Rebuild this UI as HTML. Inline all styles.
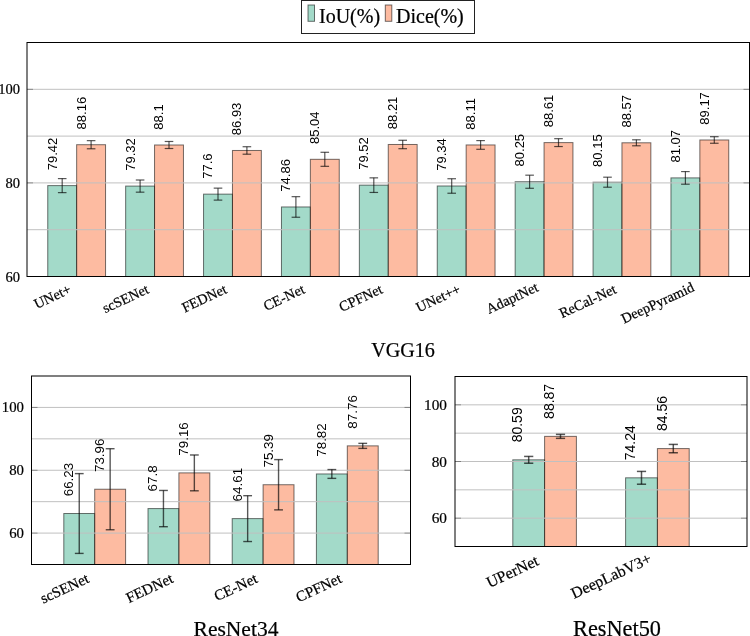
<!DOCTYPE html>
<html><head><meta charset="utf-8"><style>
html,body{margin:0;padding:0;background:#fff;width:750px;height:636px;overflow:hidden;}
svg{display:block;will-change:transform;}
text{fill:#000;stroke:#000;stroke-width:0.22px;}
text.s{stroke-width:0px;stroke:none;}
</style></head><body>
<svg width="750" height="636" viewBox="0 0 750 636"><rect x="47.75" y="185.61" width="28.90" height="90.89" fill="#66c2a5" fill-opacity="0.6" stroke="rgba(0,0,0,0.55)" stroke-width="1.0"/>
<rect x="76.65" y="144.71" width="28.90" height="131.79" fill="#fc8d62" fill-opacity="0.6" stroke="rgba(0,0,0,0.55)" stroke-width="1.0"/>
<rect x="125.65" y="186.08" width="28.90" height="90.42" fill="#66c2a5" fill-opacity="0.6" stroke="rgba(0,0,0,0.55)" stroke-width="1.0"/>
<rect x="154.55" y="144.99" width="28.90" height="131.51" fill="#fc8d62" fill-opacity="0.6" stroke="rgba(0,0,0,0.55)" stroke-width="1.0"/>
<rect x="203.55" y="194.13" width="28.90" height="82.37" fill="#66c2a5" fill-opacity="0.6" stroke="rgba(0,0,0,0.55)" stroke-width="1.0"/>
<rect x="232.45" y="150.47" width="28.90" height="126.03" fill="#fc8d62" fill-opacity="0.6" stroke="rgba(0,0,0,0.55)" stroke-width="1.0"/>
<rect x="281.45" y="206.96" width="28.90" height="69.54" fill="#66c2a5" fill-opacity="0.6" stroke="rgba(0,0,0,0.55)" stroke-width="1.0"/>
<rect x="310.35" y="159.31" width="28.90" height="117.19" fill="#fc8d62" fill-opacity="0.6" stroke="rgba(0,0,0,0.55)" stroke-width="1.0"/>
<rect x="359.35" y="185.15" width="28.90" height="91.35" fill="#66c2a5" fill-opacity="0.6" stroke="rgba(0,0,0,0.55)" stroke-width="1.0"/>
<rect x="388.25" y="144.48" width="28.90" height="132.02" fill="#fc8d62" fill-opacity="0.6" stroke="rgba(0,0,0,0.55)" stroke-width="1.0"/>
<rect x="437.25" y="185.99" width="28.90" height="90.51" fill="#66c2a5" fill-opacity="0.6" stroke="rgba(0,0,0,0.55)" stroke-width="1.0"/>
<rect x="466.15" y="144.95" width="28.90" height="131.55" fill="#fc8d62" fill-opacity="0.6" stroke="rgba(0,0,0,0.55)" stroke-width="1.0"/>
<rect x="515.15" y="181.73" width="28.90" height="94.77" fill="#66c2a5" fill-opacity="0.6" stroke="rgba(0,0,0,0.55)" stroke-width="1.0"/>
<rect x="544.05" y="142.61" width="28.90" height="133.89" fill="#fc8d62" fill-opacity="0.6" stroke="rgba(0,0,0,0.55)" stroke-width="1.0"/>
<rect x="593.05" y="182.20" width="28.90" height="94.30" fill="#66c2a5" fill-opacity="0.6" stroke="rgba(0,0,0,0.55)" stroke-width="1.0"/>
<rect x="621.95" y="142.79" width="28.90" height="133.71" fill="#fc8d62" fill-opacity="0.6" stroke="rgba(0,0,0,0.55)" stroke-width="1.0"/>
<rect x="670.95" y="177.89" width="28.90" height="98.61" fill="#66c2a5" fill-opacity="0.6" stroke="rgba(0,0,0,0.55)" stroke-width="1.0"/>
<rect x="699.85" y="139.98" width="28.90" height="136.52" fill="#fc8d62" fill-opacity="0.6" stroke="rgba(0,0,0,0.55)" stroke-width="1.0"/>
<line x1="27.00" y1="229.70" x2="749.50" y2="229.70" stroke="#c0c0c0" stroke-width="1.0"/>
<line x1="27.00" y1="182.90" x2="749.50" y2="182.90" stroke="#c0c0c0" stroke-width="1.0"/>
<line x1="27.00" y1="136.10" x2="749.50" y2="136.10" stroke="#c0c0c0" stroke-width="1.0"/>
<line x1="27.00" y1="89.30" x2="749.50" y2="89.30" stroke="#c0c0c0" stroke-width="1.0"/>
<line x1="62.20" y1="178.59" x2="62.20" y2="192.63" stroke="rgba(0,0,0,0.66)" stroke-width="1.2"/>
<line x1="57.90" y1="178.59" x2="66.50" y2="178.59" stroke="rgba(0,0,0,0.66)" stroke-width="1.2"/>
<line x1="57.90" y1="192.63" x2="66.50" y2="192.63" stroke="rgba(0,0,0,0.66)" stroke-width="1.2"/>
<line x1="91.10" y1="140.64" x2="91.10" y2="148.78" stroke="rgba(0,0,0,0.66)" stroke-width="1.2"/>
<line x1="86.80" y1="140.64" x2="95.40" y2="140.64" stroke="rgba(0,0,0,0.66)" stroke-width="1.2"/>
<line x1="86.80" y1="148.78" x2="95.40" y2="148.78" stroke="rgba(0,0,0,0.66)" stroke-width="1.2"/>
<line x1="140.10" y1="180.00" x2="140.10" y2="192.17" stroke="rgba(0,0,0,0.66)" stroke-width="1.2"/>
<line x1="135.80" y1="180.00" x2="144.40" y2="180.00" stroke="rgba(0,0,0,0.66)" stroke-width="1.2"/>
<line x1="135.80" y1="192.17" x2="144.40" y2="192.17" stroke="rgba(0,0,0,0.66)" stroke-width="1.2"/>
<line x1="169.00" y1="141.48" x2="169.00" y2="148.50" stroke="rgba(0,0,0,0.66)" stroke-width="1.2"/>
<line x1="164.70" y1="141.48" x2="173.30" y2="141.48" stroke="rgba(0,0,0,0.66)" stroke-width="1.2"/>
<line x1="164.70" y1="148.50" x2="173.30" y2="148.50" stroke="rgba(0,0,0,0.66)" stroke-width="1.2"/>
<line x1="218.00" y1="188.14" x2="218.00" y2="200.12" stroke="rgba(0,0,0,0.66)" stroke-width="1.2"/>
<line x1="213.70" y1="188.14" x2="222.30" y2="188.14" stroke="rgba(0,0,0,0.66)" stroke-width="1.2"/>
<line x1="213.70" y1="200.12" x2="222.30" y2="200.12" stroke="rgba(0,0,0,0.66)" stroke-width="1.2"/>
<line x1="246.90" y1="146.72" x2="246.90" y2="154.21" stroke="rgba(0,0,0,0.66)" stroke-width="1.2"/>
<line x1="242.60" y1="146.72" x2="251.20" y2="146.72" stroke="rgba(0,0,0,0.66)" stroke-width="1.2"/>
<line x1="242.60" y1="154.21" x2="251.20" y2="154.21" stroke="rgba(0,0,0,0.66)" stroke-width="1.2"/>
<line x1="295.90" y1="196.66" x2="295.90" y2="217.25" stroke="rgba(0,0,0,0.66)" stroke-width="1.2"/>
<line x1="291.60" y1="196.66" x2="300.20" y2="196.66" stroke="rgba(0,0,0,0.66)" stroke-width="1.2"/>
<line x1="291.60" y1="217.25" x2="300.20" y2="217.25" stroke="rgba(0,0,0,0.66)" stroke-width="1.2"/>
<line x1="324.80" y1="152.29" x2="324.80" y2="166.33" stroke="rgba(0,0,0,0.66)" stroke-width="1.2"/>
<line x1="320.50" y1="152.29" x2="329.10" y2="152.29" stroke="rgba(0,0,0,0.66)" stroke-width="1.2"/>
<line x1="320.50" y1="166.33" x2="329.10" y2="166.33" stroke="rgba(0,0,0,0.66)" stroke-width="1.2"/>
<line x1="373.80" y1="177.85" x2="373.80" y2="192.45" stroke="rgba(0,0,0,0.66)" stroke-width="1.2"/>
<line x1="369.50" y1="177.85" x2="378.10" y2="177.85" stroke="rgba(0,0,0,0.66)" stroke-width="1.2"/>
<line x1="369.50" y1="192.45" x2="378.10" y2="192.45" stroke="rgba(0,0,0,0.66)" stroke-width="1.2"/>
<line x1="402.70" y1="140.27" x2="402.70" y2="148.69" stroke="rgba(0,0,0,0.66)" stroke-width="1.2"/>
<line x1="398.40" y1="140.27" x2="407.00" y2="140.27" stroke="rgba(0,0,0,0.66)" stroke-width="1.2"/>
<line x1="398.40" y1="148.69" x2="407.00" y2="148.69" stroke="rgba(0,0,0,0.66)" stroke-width="1.2"/>
<line x1="451.70" y1="178.73" x2="451.70" y2="193.24" stroke="rgba(0,0,0,0.66)" stroke-width="1.2"/>
<line x1="447.40" y1="178.73" x2="456.00" y2="178.73" stroke="rgba(0,0,0,0.66)" stroke-width="1.2"/>
<line x1="447.40" y1="193.24" x2="456.00" y2="193.24" stroke="rgba(0,0,0,0.66)" stroke-width="1.2"/>
<line x1="480.60" y1="140.59" x2="480.60" y2="149.30" stroke="rgba(0,0,0,0.66)" stroke-width="1.2"/>
<line x1="476.30" y1="140.59" x2="484.90" y2="140.59" stroke="rgba(0,0,0,0.66)" stroke-width="1.2"/>
<line x1="476.30" y1="149.30" x2="484.90" y2="149.30" stroke="rgba(0,0,0,0.66)" stroke-width="1.2"/>
<line x1="529.60" y1="175.18" x2="529.60" y2="188.28" stroke="rgba(0,0,0,0.66)" stroke-width="1.2"/>
<line x1="525.30" y1="175.18" x2="533.90" y2="175.18" stroke="rgba(0,0,0,0.66)" stroke-width="1.2"/>
<line x1="525.30" y1="188.28" x2="533.90" y2="188.28" stroke="rgba(0,0,0,0.66)" stroke-width="1.2"/>
<line x1="558.50" y1="138.67" x2="558.50" y2="146.54" stroke="rgba(0,0,0,0.66)" stroke-width="1.2"/>
<line x1="554.20" y1="138.67" x2="562.80" y2="138.67" stroke="rgba(0,0,0,0.66)" stroke-width="1.2"/>
<line x1="554.20" y1="146.54" x2="562.80" y2="146.54" stroke="rgba(0,0,0,0.66)" stroke-width="1.2"/>
<line x1="607.50" y1="177.19" x2="607.50" y2="187.21" stroke="rgba(0,0,0,0.66)" stroke-width="1.2"/>
<line x1="603.20" y1="177.19" x2="611.80" y2="177.19" stroke="rgba(0,0,0,0.66)" stroke-width="1.2"/>
<line x1="603.20" y1="187.21" x2="611.80" y2="187.21" stroke="rgba(0,0,0,0.66)" stroke-width="1.2"/>
<line x1="636.40" y1="139.80" x2="636.40" y2="145.79" stroke="rgba(0,0,0,0.66)" stroke-width="1.2"/>
<line x1="632.10" y1="139.80" x2="640.70" y2="139.80" stroke="rgba(0,0,0,0.66)" stroke-width="1.2"/>
<line x1="632.10" y1="145.79" x2="640.70" y2="145.79" stroke="rgba(0,0,0,0.66)" stroke-width="1.2"/>
<line x1="685.40" y1="171.57" x2="685.40" y2="184.21" stroke="rgba(0,0,0,0.66)" stroke-width="1.2"/>
<line x1="681.10" y1="171.57" x2="689.70" y2="171.57" stroke="rgba(0,0,0,0.66)" stroke-width="1.2"/>
<line x1="681.10" y1="184.21" x2="689.70" y2="184.21" stroke="rgba(0,0,0,0.66)" stroke-width="1.2"/>
<line x1="714.30" y1="136.71" x2="714.30" y2="143.26" stroke="rgba(0,0,0,0.66)" stroke-width="1.2"/>
<line x1="710.00" y1="136.71" x2="718.60" y2="136.71" stroke="rgba(0,0,0,0.66)" stroke-width="1.2"/>
<line x1="710.00" y1="143.26" x2="718.60" y2="143.26" stroke="rgba(0,0,0,0.66)" stroke-width="1.2"/>
<text x="56.70" y="170.31" font-size="13.0" font-family="'Liberation Sans', sans-serif" text-anchor="start" transform="rotate(-90 56.70 170.31)" class="s">79.42</text>
<text x="85.60" y="129.41" font-size="13.0" font-family="'Liberation Sans', sans-serif" text-anchor="start" transform="rotate(-90 85.60 129.41)" class="s">88.16</text>
<text x="134.60" y="170.78" font-size="13.0" font-family="'Liberation Sans', sans-serif" text-anchor="start" transform="rotate(-90 134.60 170.78)" class="s">79.32</text>
<text x="163.50" y="129.69" font-size="13.0" font-family="'Liberation Sans', sans-serif" text-anchor="start" transform="rotate(-90 163.50 129.69)" class="s">88.1</text>
<text x="212.50" y="178.83" font-size="13.0" font-family="'Liberation Sans', sans-serif" text-anchor="start" transform="rotate(-90 212.50 178.83)" class="s">77.6</text>
<text x="241.40" y="135.17" font-size="13.0" font-family="'Liberation Sans', sans-serif" text-anchor="start" transform="rotate(-90 241.40 135.17)" class="s">86.93</text>
<text x="290.40" y="191.66" font-size="13.0" font-family="'Liberation Sans', sans-serif" text-anchor="start" transform="rotate(-90 290.40 191.66)" class="s">74.86</text>
<text x="319.30" y="144.01" font-size="13.0" font-family="'Liberation Sans', sans-serif" text-anchor="start" transform="rotate(-90 319.30 144.01)" class="s">85.04</text>
<text x="368.30" y="169.85" font-size="13.0" font-family="'Liberation Sans', sans-serif" text-anchor="start" transform="rotate(-90 368.30 169.85)" class="s">79.52</text>
<text x="397.20" y="129.18" font-size="13.0" font-family="'Liberation Sans', sans-serif" text-anchor="start" transform="rotate(-90 397.20 129.18)" class="s">88.21</text>
<text x="446.20" y="170.69" font-size="13.0" font-family="'Liberation Sans', sans-serif" text-anchor="start" transform="rotate(-90 446.20 170.69)" class="s">79.34</text>
<text x="475.10" y="129.65" font-size="13.0" font-family="'Liberation Sans', sans-serif" text-anchor="start" transform="rotate(-90 475.10 129.65)" class="s">88.11</text>
<text x="524.10" y="166.43" font-size="13.0" font-family="'Liberation Sans', sans-serif" text-anchor="start" transform="rotate(-90 524.10 166.43)" class="s">80.25</text>
<text x="553.00" y="127.31" font-size="13.0" font-family="'Liberation Sans', sans-serif" text-anchor="start" transform="rotate(-90 553.00 127.31)" class="s">88.61</text>
<text x="602.00" y="166.90" font-size="13.0" font-family="'Liberation Sans', sans-serif" text-anchor="start" transform="rotate(-90 602.00 166.90)" class="s">80.15</text>
<text x="630.90" y="127.49" font-size="13.0" font-family="'Liberation Sans', sans-serif" text-anchor="start" transform="rotate(-90 630.90 127.49)" class="s">88.57</text>
<text x="679.90" y="162.59" font-size="13.0" font-family="'Liberation Sans', sans-serif" text-anchor="start" transform="rotate(-90 679.90 162.59)" class="s">81.07</text>
<text x="708.80" y="124.68" font-size="13.0" font-family="'Liberation Sans', sans-serif" text-anchor="start" transform="rotate(-90 708.80 124.68)" class="s">89.17</text>
<rect x="27.0" y="42.5" width="722.5" height="234.0" fill="none" stroke="#000" stroke-width="1"/>
<line x1="27.00" y1="276.50" x2="33.00" y2="276.50" stroke="rgba(0,0,0,0.35)" stroke-width="1.0"/>
<line x1="743.50" y1="276.50" x2="749.50" y2="276.50" stroke="rgba(0,0,0,0.35)" stroke-width="1.0"/>
<line x1="27.00" y1="182.90" x2="33.00" y2="182.90" stroke="rgba(0,0,0,0.35)" stroke-width="1.0"/>
<line x1="743.50" y1="182.90" x2="749.50" y2="182.90" stroke="rgba(0,0,0,0.35)" stroke-width="1.0"/>
<line x1="27.00" y1="89.30" x2="33.00" y2="89.30" stroke="rgba(0,0,0,0.35)" stroke-width="1.0"/>
<line x1="743.50" y1="89.30" x2="749.50" y2="89.30" stroke="rgba(0,0,0,0.35)" stroke-width="1.0"/>
<text x="20.00" y="281.50" font-size="14.5" font-family="'Liberation Serif', serif" text-anchor="end">60</text>
<text x="20.00" y="187.90" font-size="14.5" font-family="'Liberation Serif', serif" text-anchor="end">80</text>
<text x="20.00" y="94.30" font-size="14.5" font-family="'Liberation Serif', serif" text-anchor="end">100</text>
<text x="72.05" y="292.50" font-size="14.3" font-family="'Liberation Serif', serif" text-anchor="end" transform="rotate(-25 72.05 292.50)">UNet+</text>
<text x="149.95" y="292.50" font-size="14.3" font-family="'Liberation Serif', serif" text-anchor="end" transform="rotate(-25 149.95 292.50)">scSENet</text>
<text x="227.85" y="292.50" font-size="14.3" font-family="'Liberation Serif', serif" text-anchor="end" transform="rotate(-25 227.85 292.50)">FEDNet</text>
<text x="305.75" y="292.50" font-size="14.3" font-family="'Liberation Serif', serif" text-anchor="end" transform="rotate(-25 305.75 292.50)">CE-Net</text>
<text x="383.65" y="292.50" font-size="14.3" font-family="'Liberation Serif', serif" text-anchor="end" transform="rotate(-25 383.65 292.50)">CPFNet</text>
<text x="461.55" y="292.50" font-size="14.3" font-family="'Liberation Serif', serif" text-anchor="end" transform="rotate(-25 461.55 292.50)">UNet++</text>
<text x="539.45" y="290.50" font-size="14.3" font-family="'Liberation Serif', serif" text-anchor="end" transform="rotate(-25 539.45 290.50)">AdaptNet</text>
<text x="617.35" y="292.50" font-size="14.3" font-family="'Liberation Serif', serif" text-anchor="end" transform="rotate(-25 617.35 292.50)">ReCal-Net</text>
<text x="695.25" y="290.50" font-size="14.3" font-family="'Liberation Serif', serif" text-anchor="end" transform="rotate(-25 695.25 290.50)">DeepPyramid</text>
<rect x="63.80" y="513.51" width="30.90" height="50.99" fill="#66c2a5" fill-opacity="0.6" stroke="rgba(0,0,0,0.55)" stroke-width="1.0"/>
<rect x="94.70" y="489.23" width="30.90" height="75.27" fill="#fc8d62" fill-opacity="0.6" stroke="rgba(0,0,0,0.55)" stroke-width="1.0"/>
<rect x="148.00" y="508.58" width="30.90" height="55.92" fill="#66c2a5" fill-opacity="0.6" stroke="rgba(0,0,0,0.55)" stroke-width="1.0"/>
<rect x="178.90" y="472.89" width="30.90" height="91.61" fill="#fc8d62" fill-opacity="0.6" stroke="rgba(0,0,0,0.55)" stroke-width="1.0"/>
<rect x="232.20" y="518.60" width="30.90" height="45.90" fill="#66c2a5" fill-opacity="0.6" stroke="rgba(0,0,0,0.55)" stroke-width="1.0"/>
<rect x="263.10" y="484.73" width="30.90" height="79.77" fill="#fc8d62" fill-opacity="0.6" stroke="rgba(0,0,0,0.55)" stroke-width="1.0"/>
<rect x="316.40" y="473.96" width="30.90" height="90.54" fill="#66c2a5" fill-opacity="0.6" stroke="rgba(0,0,0,0.55)" stroke-width="1.0"/>
<rect x="347.30" y="445.87" width="30.90" height="118.63" fill="#fc8d62" fill-opacity="0.6" stroke="rgba(0,0,0,0.55)" stroke-width="1.0"/>
<line x1="31.50" y1="533.08" x2="410.50" y2="533.08" stroke="#c0c0c0" stroke-width="1.0"/>
<line x1="31.50" y1="501.67" x2="410.50" y2="501.67" stroke="#c0c0c0" stroke-width="1.0"/>
<line x1="31.50" y1="470.25" x2="410.50" y2="470.25" stroke="#c0c0c0" stroke-width="1.0"/>
<line x1="31.50" y1="438.83" x2="410.50" y2="438.83" stroke="#c0c0c0" stroke-width="1.0"/>
<line x1="31.50" y1="407.42" x2="410.50" y2="407.42" stroke="#c0c0c0" stroke-width="1.0"/>
<line x1="79.25" y1="473.61" x2="79.25" y2="553.41" stroke="rgba(0,0,0,0.66)" stroke-width="1.4"/>
<line x1="74.85" y1="473.61" x2="83.65" y2="473.61" stroke="rgba(0,0,0,0.66)" stroke-width="1.4"/>
<line x1="74.85" y1="553.41" x2="83.65" y2="553.41" stroke="rgba(0,0,0,0.66)" stroke-width="1.4"/>
<line x1="110.15" y1="448.70" x2="110.15" y2="529.75" stroke="rgba(0,0,0,0.66)" stroke-width="1.4"/>
<line x1="105.75" y1="448.70" x2="114.55" y2="448.70" stroke="rgba(0,0,0,0.66)" stroke-width="1.4"/>
<line x1="105.75" y1="529.75" x2="114.55" y2="529.75" stroke="rgba(0,0,0,0.66)" stroke-width="1.4"/>
<line x1="163.45" y1="490.45" x2="163.45" y2="526.71" stroke="rgba(0,0,0,0.66)" stroke-width="1.4"/>
<line x1="159.05" y1="490.45" x2="167.85" y2="490.45" stroke="rgba(0,0,0,0.66)" stroke-width="1.4"/>
<line x1="159.05" y1="526.71" x2="167.85" y2="526.71" stroke="rgba(0,0,0,0.66)" stroke-width="1.4"/>
<line x1="194.35" y1="454.98" x2="194.35" y2="490.80" stroke="rgba(0,0,0,0.66)" stroke-width="1.4"/>
<line x1="189.95" y1="454.98" x2="198.75" y2="454.98" stroke="rgba(0,0,0,0.66)" stroke-width="1.4"/>
<line x1="189.95" y1="490.80" x2="198.75" y2="490.80" stroke="rgba(0,0,0,0.66)" stroke-width="1.4"/>
<line x1="247.65" y1="495.67" x2="247.65" y2="541.53" stroke="rgba(0,0,0,0.66)" stroke-width="1.4"/>
<line x1="243.25" y1="495.67" x2="252.05" y2="495.67" stroke="rgba(0,0,0,0.66)" stroke-width="1.4"/>
<line x1="243.25" y1="541.53" x2="252.05" y2="541.53" stroke="rgba(0,0,0,0.66)" stroke-width="1.4"/>
<line x1="278.55" y1="459.60" x2="278.55" y2="509.87" stroke="rgba(0,0,0,0.66)" stroke-width="1.4"/>
<line x1="274.15" y1="459.60" x2="282.95" y2="459.60" stroke="rgba(0,0,0,0.66)" stroke-width="1.4"/>
<line x1="274.15" y1="509.87" x2="282.95" y2="509.87" stroke="rgba(0,0,0,0.66)" stroke-width="1.4"/>
<line x1="331.85" y1="469.56" x2="331.85" y2="478.36" stroke="rgba(0,0,0,0.66)" stroke-width="1.4"/>
<line x1="327.45" y1="469.56" x2="336.25" y2="469.56" stroke="rgba(0,0,0,0.66)" stroke-width="1.4"/>
<line x1="327.45" y1="478.36" x2="336.25" y2="478.36" stroke="rgba(0,0,0,0.66)" stroke-width="1.4"/>
<line x1="362.75" y1="443.36" x2="362.75" y2="448.38" stroke="rgba(0,0,0,0.66)" stroke-width="1.4"/>
<line x1="358.35" y1="443.36" x2="367.15" y2="443.36" stroke="rgba(0,0,0,0.66)" stroke-width="1.4"/>
<line x1="358.35" y1="448.38" x2="367.15" y2="448.38" stroke="rgba(0,0,0,0.66)" stroke-width="1.4"/>
<text x="73.25" y="496.31" font-size="13.4" font-family="'Liberation Sans', sans-serif" text-anchor="start" transform="rotate(-90 73.25 496.31)" class="s">66.23</text>
<text x="104.15" y="472.03" font-size="13.4" font-family="'Liberation Sans', sans-serif" text-anchor="start" transform="rotate(-90 104.15 472.03)" class="s">73.96</text>
<text x="157.45" y="491.38" font-size="13.4" font-family="'Liberation Sans', sans-serif" text-anchor="start" transform="rotate(-90 157.45 491.38)" class="s">67.8</text>
<text x="188.35" y="455.69" font-size="13.4" font-family="'Liberation Sans', sans-serif" text-anchor="start" transform="rotate(-90 188.35 455.69)" class="s">79.16</text>
<text x="241.65" y="501.40" font-size="13.4" font-family="'Liberation Sans', sans-serif" text-anchor="start" transform="rotate(-90 241.65 501.40)" class="s">64.61</text>
<text x="272.55" y="467.53" font-size="13.4" font-family="'Liberation Sans', sans-serif" text-anchor="start" transform="rotate(-90 272.55 467.53)" class="s">75.39</text>
<text x="325.85" y="456.76" font-size="13.4" font-family="'Liberation Sans', sans-serif" text-anchor="start" transform="rotate(-90 325.85 456.76)" class="s">78.82</text>
<text x="356.75" y="428.67" font-size="13.4" font-family="'Liberation Sans', sans-serif" text-anchor="start" transform="rotate(-90 356.75 428.67)" class="s">87.76</text>
<rect x="31.5" y="376.0" width="379.0" height="188.5" fill="none" stroke="#000" stroke-width="1"/>
<line x1="31.50" y1="533.08" x2="37.50" y2="533.08" stroke="rgba(0,0,0,0.35)" stroke-width="1.0"/>
<line x1="404.50" y1="533.08" x2="410.50" y2="533.08" stroke="rgba(0,0,0,0.35)" stroke-width="1.0"/>
<line x1="31.50" y1="470.25" x2="37.50" y2="470.25" stroke="rgba(0,0,0,0.35)" stroke-width="1.0"/>
<line x1="404.50" y1="470.25" x2="410.50" y2="470.25" stroke="rgba(0,0,0,0.35)" stroke-width="1.0"/>
<line x1="31.50" y1="407.42" x2="37.50" y2="407.42" stroke="rgba(0,0,0,0.35)" stroke-width="1.0"/>
<line x1="404.50" y1="407.42" x2="410.50" y2="407.42" stroke="rgba(0,0,0,0.35)" stroke-width="1.0"/>
<text x="24.00" y="538.08" font-size="14.8" font-family="'Liberation Serif', serif" text-anchor="end">60</text>
<text x="24.00" y="475.25" font-size="14.8" font-family="'Liberation Serif', serif" text-anchor="end">80</text>
<text x="24.00" y="412.42" font-size="14.8" font-family="'Liberation Serif', serif" text-anchor="end">100</text>
<text x="90.10" y="582.00" font-size="15.0" font-family="'Liberation Serif', serif" text-anchor="end" transform="rotate(-25 90.10 582.00)">scSENet</text>
<text x="174.30" y="582.00" font-size="15.0" font-family="'Liberation Serif', serif" text-anchor="end" transform="rotate(-25 174.30 582.00)">FEDNet</text>
<text x="258.50" y="582.00" font-size="15.0" font-family="'Liberation Serif', serif" text-anchor="end" transform="rotate(-25 258.50 582.00)">CE-Net</text>
<text x="342.70" y="582.00" font-size="15.0" font-family="'Liberation Serif', serif" text-anchor="end" transform="rotate(-25 342.70 582.00)">CPFNet</text>
<rect x="512.80" y="459.83" width="31.80" height="86.67" fill="#66c2a5" fill-opacity="0.6" stroke="rgba(0,0,0,0.55)" stroke-width="1.0"/>
<rect x="544.60" y="436.37" width="31.80" height="110.13" fill="#fc8d62" fill-opacity="0.6" stroke="rgba(0,0,0,0.55)" stroke-width="1.0"/>
<rect x="625.60" y="477.82" width="31.80" height="68.68" fill="#66c2a5" fill-opacity="0.6" stroke="rgba(0,0,0,0.55)" stroke-width="1.0"/>
<rect x="657.40" y="448.58" width="31.80" height="97.92" fill="#fc8d62" fill-opacity="0.6" stroke="rgba(0,0,0,0.55)" stroke-width="1.0"/>
<line x1="455.00" y1="518.17" x2="747.00" y2="518.17" stroke="#c0c0c0" stroke-width="1.0"/>
<line x1="455.00" y1="489.83" x2="747.00" y2="489.83" stroke="#c0c0c0" stroke-width="1.0"/>
<line x1="455.00" y1="461.50" x2="747.00" y2="461.50" stroke="#c0c0c0" stroke-width="1.0"/>
<line x1="455.00" y1="433.17" x2="747.00" y2="433.17" stroke="#c0c0c0" stroke-width="1.0"/>
<line x1="455.00" y1="404.83" x2="747.00" y2="404.83" stroke="#c0c0c0" stroke-width="1.0"/>
<line x1="528.70" y1="456.43" x2="528.70" y2="463.23" stroke="rgba(0,0,0,0.66)" stroke-width="1.5"/>
<line x1="524.10" y1="456.43" x2="533.30" y2="456.43" stroke="rgba(0,0,0,0.66)" stroke-width="1.5"/>
<line x1="524.10" y1="463.23" x2="533.30" y2="463.23" stroke="rgba(0,0,0,0.66)" stroke-width="1.5"/>
<line x1="560.50" y1="434.38" x2="560.50" y2="438.35" stroke="rgba(0,0,0,0.66)" stroke-width="1.5"/>
<line x1="555.90" y1="434.38" x2="565.10" y2="434.38" stroke="rgba(0,0,0,0.66)" stroke-width="1.5"/>
<line x1="555.90" y1="438.35" x2="565.10" y2="438.35" stroke="rgba(0,0,0,0.66)" stroke-width="1.5"/>
<line x1="641.50" y1="471.42" x2="641.50" y2="484.22" stroke="rgba(0,0,0,0.66)" stroke-width="1.5"/>
<line x1="636.90" y1="471.42" x2="646.10" y2="471.42" stroke="rgba(0,0,0,0.66)" stroke-width="1.5"/>
<line x1="636.90" y1="484.22" x2="646.10" y2="484.22" stroke="rgba(0,0,0,0.66)" stroke-width="1.5"/>
<line x1="673.30" y1="444.41" x2="673.30" y2="452.75" stroke="rgba(0,0,0,0.66)" stroke-width="1.5"/>
<line x1="668.70" y1="444.41" x2="677.90" y2="444.41" stroke="rgba(0,0,0,0.66)" stroke-width="1.5"/>
<line x1="668.70" y1="452.75" x2="677.90" y2="452.75" stroke="rgba(0,0,0,0.66)" stroke-width="1.5"/>
<text x="522.40" y="442.33" font-size="14.0" font-family="'Liberation Sans', sans-serif" text-anchor="start" transform="rotate(-90 522.40 442.33)" class="s">80.59</text>
<text x="554.20" y="418.87" font-size="14.0" font-family="'Liberation Sans', sans-serif" text-anchor="start" transform="rotate(-90 554.20 418.87)" class="s">88.87</text>
<text x="635.20" y="460.32" font-size="14.0" font-family="'Liberation Sans', sans-serif" text-anchor="start" transform="rotate(-90 635.20 460.32)" class="s">74.24</text>
<text x="667.00" y="431.08" font-size="14.0" font-family="'Liberation Sans', sans-serif" text-anchor="start" transform="rotate(-90 667.00 431.08)" class="s">84.56</text>
<rect x="455.0" y="376.5" width="292.0" height="170.0" fill="none" stroke="#000" stroke-width="1"/>
<line x1="455.00" y1="518.17" x2="461.00" y2="518.17" stroke="rgba(0,0,0,0.35)" stroke-width="1.0"/>
<line x1="741.00" y1="518.17" x2="747.00" y2="518.17" stroke="rgba(0,0,0,0.35)" stroke-width="1.0"/>
<line x1="455.00" y1="461.50" x2="461.00" y2="461.50" stroke="rgba(0,0,0,0.35)" stroke-width="1.0"/>
<line x1="741.00" y1="461.50" x2="747.00" y2="461.50" stroke="rgba(0,0,0,0.35)" stroke-width="1.0"/>
<line x1="455.00" y1="404.83" x2="461.00" y2="404.83" stroke="rgba(0,0,0,0.35)" stroke-width="1.0"/>
<line x1="741.00" y1="404.83" x2="747.00" y2="404.83" stroke="rgba(0,0,0,0.35)" stroke-width="1.0"/>
<text x="447.00" y="523.37" font-size="15.3" font-family="'Liberation Serif', serif" text-anchor="end">60</text>
<text x="447.00" y="466.70" font-size="15.3" font-family="'Liberation Serif', serif" text-anchor="end">80</text>
<text x="447.00" y="410.03" font-size="15.3" font-family="'Liberation Serif', serif" text-anchor="end">100</text>
<text x="539.80" y="564.50" font-size="15.9" font-family="'Liberation Serif', serif" text-anchor="end" transform="rotate(-25 539.80 564.50)">UPerNet</text>
<text x="652.60" y="562.27" font-size="15.9" font-family="'Liberation Serif', serif" text-anchor="end" transform="rotate(-25 652.60 562.27)">DeepLabV3+</text>
<rect x="301.5" y="0.5" width="173" height="33" fill="#fff" stroke="#222" stroke-width="1"/>
<rect x="308.00" y="5.00" width="6.50" height="16.30" fill="#66c2a5" fill-opacity="0.6" stroke="rgba(0,0,0,0.55)" stroke-width="1.0"/>
<text x="319.00" y="23.20" font-size="20" font-family="'Liberation Serif', serif" text-anchor="start">IoU(%)</text>
<rect x="385.30" y="5.00" width="6.50" height="16.30" fill="#fc8d62" fill-opacity="0.6" stroke="rgba(0,0,0,0.55)" stroke-width="1.0"/>
<text x="396.00" y="23.20" font-size="20" font-family="'Liberation Serif', serif" text-anchor="start">Dice(%)</text>
<text x="403.00" y="357.30" font-size="20.1" font-family="'Liberation Serif', serif" text-anchor="middle">VGG16</text>
<text x="236.00" y="635.50" font-size="21.5" font-family="'Liberation Serif', serif" text-anchor="middle">ResNet34</text>
<text x="617.00" y="635.50" font-size="22.3" font-family="'Liberation Serif', serif" text-anchor="middle">ResNet50</text></svg>
</body></html>
